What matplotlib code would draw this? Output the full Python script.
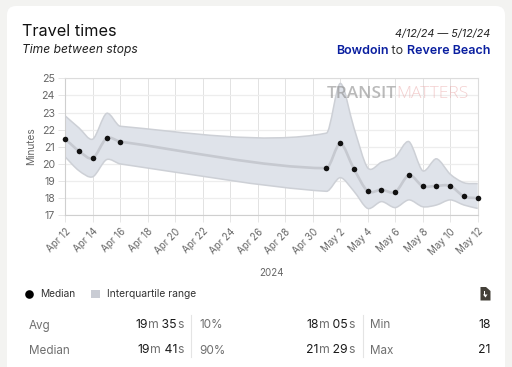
import matplotlib
matplotlib.use('Agg')
import matplotlib.pyplot as plt
import matplotlib.dates as mdates
import numpy as np
import pandas as pd
from matplotlib.path import Path
from matplotlib.patches import PathPatch, FancyBboxPatch, Rectangle, Polygon

plt.rcParams['font.family'] = ['Inter', 'DejaVu Sans']

# ------------- data -------------
days = ['2024-04-12', '2024-04-13', '2024-04-14', '2024-04-15', '2024-04-16',
        '2024-05-01', '2024-05-02', '2024-05-03', '2024-05-04', '2024-05-05', '2024-05-06',
        '2024-05-07', '2024-05-08', '2024-05-09', '2024-05-10', '2024-05-11', '2024-05-12']
median = [21.45, 20.75, 20.33, 21.5, 21.3,
          19.75, 21.2, 19.7, 18.4, 18.5, 18.35,
          19.35, 18.7, 18.72, 18.72, 18.1, 18.0]
upper = [22.8, 22.1, 21.45, 22.95, 22.2,
         21.8, 24.7, 22.1, 19.77, 20.1, 20.4,
         21.3, 19.6, 20.3, 19.4, 18.9, 18.85]
lower = [20.4, 19.6, 19.25, 20.25, 20.0,
         18.4, 19.2, 18.4, 17.4, 17.8, 17.45,
         17.9, 17.5, 17.6, 17.9, 17.6, 17.4]
tick_days = ['2024-04-12', '2024-04-14', '2024-04-16', '2024-04-18', '2024-04-20', '2024-04-22',
             '2024-04-24', '2024-04-26', '2024-04-28', '2024-04-30', '2024-05-02', '2024-05-04',
             '2024-05-06', '2024-05-08', '2024-05-10', '2024-05-12']
tick_labels = ['Apr 12', 'Apr 14', 'Apr 16', 'Apr 18', 'Apr 20', 'Apr 22', 'Apr 24', 'Apr 26',
               'Apr 28', 'Apr 30', 'May 2', 'May 4', 'May 6', 'May 8', 'May 10', 'May 12']
y_ticks = [17, 18, 19, 20, 21, 22, 23, 24, 25]
stats_left = [('Avg', '19', '35'), ('Median', '19', '41')]
stats_mid = [('10%', '18', '05'), ('90%', '21', '29')]
stats_right = [('Min', '18'), ('Max', '21')]

W, H = 512, 367
BAND = '#dfe3ea'
BAND_EDGE = '#cdd0d6'
DARK = '#1a1a1a'
GREY = '#6f6f6f'


# smooth curve through the points, chart.js style
def curve_verts(x, y, t=0.3):
    x = np.asarray(x, float)
    y = np.asarray(y, float)
    verts = [(x[0], y[0])]
    for i in range(len(x) - 1):
        x0, y0 = (x[i - 1], y[i - 1]) if i > 0 else (x[i], y[i])
        x3, y3 = (x[i + 2], y[i + 2]) if i < len(x) - 2 else (x[i + 1], y[i + 1])
        dx = x[i + 1] - x[i]
        m1 = (y[i + 1] - y0) / max(x[i + 1] - x0, 1e-6)
        m2 = (y3 - y[i]) / max(x3 - x[i], 1e-6)
        verts.append((x[i] + dx * t, y[i] + m1 * dx * t))
        verts.append((x[i + 1] - dx * t, y[i + 1] - m2 * dx * t))
        verts.append((x[i + 1], y[i + 1]))
    return verts


fig = plt.figure(figsize=(W / 100, H / 100), dpi=100, facecolor='#f3f3f1')

# page layer in pixels
bg = fig.add_axes([0, 0, 1, 1], zorder=0)
bg.set_xlim(0, W)
bg.set_ylim(H, 0)
bg.axis('off')
bg.add_patch(FancyBboxPatch((7, 6), 498, 400, boxstyle='round,pad=0,rounding_size=9',
                            fc='white', ec='none'))

ax_l, ax_r, ax_t, ax_b = 65.3, 477.7, 78.3, 215.3
ax = fig.add_axes([ax_l / W, 1 - ax_b / H, (ax_r - ax_l) / W, (ax_b - ax_t) / H], zorder=1)
ax.patch.set_alpha(0)

dates = mdates.date2num(pd.to_datetime(days))
ticks = mdates.date2num(pd.to_datetime(tick_days))

up = curve_verts(dates, upper)
lo = curve_verts(dates, lower)
fill_verts = up + [(dates[-1], lower[-1])] + lo[::-1][1:] + [(dates[0], upper[0])]
codes = [Path.MOVETO] + [Path.CURVE4] * (len(up) - 1) + [Path.LINETO] + \
        [Path.CURVE4] * (len(lo) - 1) + [Path.CLOSEPOLY]
ax.add_patch(PathPatch(Path(fill_verts, codes), fc=BAND, ec='none', zorder=2))
for v in (up, lo):
    c = [Path.MOVETO] + [Path.CURVE4] * (len(v) - 1)
    ax.add_patch(PathPatch(Path(v, c), fc='none', ec=BAND_EDGE, lw=1.1, zorder=3))

med = curve_verts(dates, median)
ax.add_patch(PathPatch(Path(med, [Path.MOVETO] + [Path.CURVE4] * (len(med) - 1)), fc='none',
                       ec='#c6c9d0', lw=1.9, zorder=3))
ax.plot(dates, median, 'o', color='#111111', ms=4.0, mew=0, zorder=4, clip_on=False)

ax.set_xlim(ticks[0], ticks[-1])
ax.set_ylim(17, 25)
ax.set_yticks(y_ticks)
ax.set_xticks(ticks)
ax.set_xticklabels(tick_labels, rotation=45, ha='right', rotation_mode='anchor', fontsize=7, color='#666666')
ax.tick_params(axis='y', length=5, width=0.6, color='#e2e2e2', labelsize=7.6, labelcolor='#666666', pad=2.5)
ax.tick_params(axis='x', length=5, width=0.6, color='#e2e2e2', pad=3)
ax.grid(True, axis='y', color='#ededed', lw=0.9, zorder=1)
ax.grid(True, axis='x', color='#e2e2e2', lw=0.7, zorder=1)
ax.set_axisbelow(True)
for name, sp in ax.spines.items():
    sp.set_color('#dcdcdc')
    sp.set_linewidth(0.8)
ax.spines['left'].set_color('#cfcfcf')
ax.spines['bottom'].set_color('#cfcfcf')

# text layer in pixels
top = fig.add_axes([0, 0, 1, 1], zorder=2)
top.set_xlim(0, W)
top.set_ylim(H, 0)
top.axis('off')
top.patch.set_alpha(0)


def txt(x, y, s, **kw):
    kw.setdefault('va', 'center')
    return top.text(x, y, s, **kw)


# pieces laid out leftwards from the right edge
def right_run(x, y, pieces, size):
    r = fig.canvas.get_renderer()
    for s, col, weight, style in reversed(pieces):
        t = txt(x, y, s, color=col, fontsize=size, ha='right', fontweight=weight, fontstyle=style)
        x -= t.get_window_extent(r).width


txt(21.5, 32, 'Travel times', fontsize=11.7, color='#111111')
txt(22, 50.5, 'Time between stops', fontsize=8.7, color='#222222', fontstyle='italic')
txt(490.5, 34.5, '4/12/24 — 5/12/24', fontsize=7.8, color='#222222', ha='right', fontstyle='italic')
right_run(490.5, 50.5, [('Bowdoin', '#0a1fa0', 'semibold', 'normal'), (' to ', '#333333', 'normal', 'normal'),
                        ('Revere Beach', '#0a1fa0', 'semibold', 'normal')], 9)

txt(31, 146.5, 'Minutes', fontsize=7.3, color='#666666', rotation=90, ha='center')
txt(271.5, 272.5, '2024', fontsize=7, color='#666666', ha='center')

# watermark
txt(327, 94.5, 'TRANSIT', fontsize=12.3, color='#8c8c8c', alpha=0.6, fontweight='semibold', family='Open Sans')
txt(396, 94.5, 'MATTERS', fontsize=12.5, color='#e8a0a0', alpha=0.5, fontweight='light', family='Open Sans')

# legend
top.plot([29], [293.5], 'o', color='black', ms=6.2, mew=0)
txt(40.5, 294, 'Median', fontsize=7.3, color='#333333')
top.add_patch(Rectangle((91, 289.5), 8.5, 8, fc='#c9ccd4', ec='none'))
txt(107, 294, 'Interquartile range', fontsize=7.4, color='#333333')

# download icon
top.add_patch(Polygon([(480.5, 287), (486, 287), (490.5, 291), (490.5, 300.5), (480.5, 300.5)],
                      closed=True, fc='#444039', ec='none'))
top.add_patch(Polygon([(485, 291), (485, 294.5), (487.5, 294.5), (485.5, 297.5), (483, 294.5), (484, 294.5), (484, 291)],
                      closed=True, fc='white', ec='none'))

# stats table
row_y = [324.5, 350]
for (name, mins, secs), y in zip(stats_left, row_y):
    txt(29, y + 1, name, fontsize=8.4, color=GREY)
    right_run(183.5, y, [(mins, DARK, 'normal', 'normal'), ('m', GREY, 'normal', 'normal'),
                         (' ' + secs, DARK, 'normal', 'normal'), ('s', GREY, 'normal', 'normal')], 8.8)
for (name, mins, secs), y in zip(stats_mid, row_y):
    txt(199, y + 1, name, fontsize=8.4, color=GREY)
    right_run(354.5, y, [(mins, DARK, 'normal', 'normal'), ('m', GREY, 'normal', 'normal'),
                         (' ' + secs, DARK, 'normal', 'normal'), ('s', GREY, 'normal', 'normal')], 8.8)
for (name, mins), y in zip(stats_right, row_y):
    txt(370, y + 1, name, fontsize=8.4, color=GREY)
    txt(490.5, y, mins, fontsize=8.8, color=DARK, ha='right')
top.plot([191, 191], [315, 357], color='#e4e4e4', lw=0.8)
top.plot([362.5, 362.5], [315, 357], color='#e4e4e4', lw=0.8)

fig.savefig('out.png', dpi=100, facecolor=fig.get_facecolor())
